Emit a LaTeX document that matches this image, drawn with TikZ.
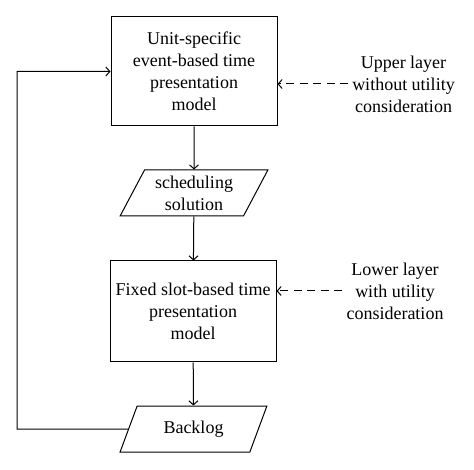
\documentclass[tikz,border=0pt]{standalone}
\usepackage{fontspec}
\setmainfont{Liberation Serif}
\usetikzlibrary{positioning,shapes.geometric,arrows.meta}

\tikzset{
    model/.style={draw, line width=1pt, minimum width=166pt, align=center, inner sep=2pt},
    data/.style={draw, line width=1pt, trapezium, trapezium left angle=61, trapezium right angle=119,
        trapezium stretches=true, minimum width=148pt, minimum height=46pt, align=center, inner sep=0pt},
    flow/.style={->, line width=1pt},
    hint/.style={->, line width=1pt, dash pattern=on 8pt off 5.5pt},
    note/.style={align=center, inner sep=4pt}
}

\begin{document}
\begin{tikzpicture}[x=1pt, y=-1pt, font=\fontsize{18}{22}\selectfont, >={Straight Barb[length=4pt,width=9pt]}]
    \useasboundingbox (0,0) rectangle (474,470);
    % main chain
    \node[model, minimum height=109pt] (unit) at (194,71.5) {Unit-specific\\event-based time\\presentation\\model};
    \node[data] (sched) at (194,193) {scheduling\\solution};
    \node[model, minimum height=101pt] (fixed) at (193,311.5) {Fixed slot-based time\\presentation\\model};
    \node[data] (back) at (193.5,429) {Backlog};
    \draw[flow] (unit) -- (sched);
    \draw[flow] (sched) -- (fixed);
    \draw[flow] (fixed) -- (back);
    % feedback loop
    \coordinate (turn) at (17,429);
    \draw[flow] (back.west) -- (turn) |- (unit.west);
    % layer notes
    \node[note] (upper) at (403.5,84) {Upper layer\\without utility\\consideration};
    \node[note] (lower) at (395,291) {Lower layer\\with utility\\consideration};
    \draw[hint] (upper.west) -- (upper.west -| unit.east);
    \draw[hint] (lower.west) -- (lower.west -| fixed.east);
\end{tikzpicture}
\end{document}
